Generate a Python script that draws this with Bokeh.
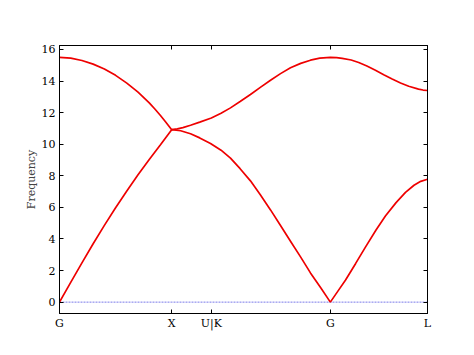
from bokeh.plotting import figure
from bokeh.models import Range1d, FixedTicker, LinearAxis
from bokeh.embed import file_html
from bokeh.resources import INLINE

# path positions of the high-symmetry points
tick_pos = [0.0, 1.0, 1.3536, 2.4142, 3.2802]
tick_labels = ["G", "X", "U|K", "G", "L"]

# upper branch
upper_k = [0.0, 0.1, 0.2, 0.3, 0.4, 0.5, 0.6, 0.7, 0.8, 0.85, 0.9, 0.95, 1.0,
           1.05, 1.1, 1.168, 1.25, 1.3536, 1.44, 1.524, 1.61, 1.702, 1.79, 1.881,
           1.97, 2.059, 2.15, 2.237, 2.32, 2.4142, 2.47, 2.52, 2.6, 2.667, 2.74, 2.816,
           2.89, 2.965, 3.04, 3.113, 3.2, 3.24, 3.2802]
upper_f = [15.5, 15.45, 15.3, 15.07, 14.76, 14.36, 13.87, 13.3, 12.62, 12.23, 11.82, 11.38, 10.92,
           10.97, 11.05, 11.2, 11.4, 11.66, 11.96, 12.3, 12.7, 13.15, 13.6, 14.05,
           14.47, 14.84, 15.12, 15.32, 15.45, 15.5, 15.48, 15.44, 15.33, 15.17, 14.95, 14.68,
           14.4, 14.13, 13.88, 13.67, 13.49, 13.43, 13.4]

# lower branch
lower_k = [0.0, 0.1, 0.2, 0.3, 0.4, 0.5, 0.6, 0.7, 0.8, 0.9, 1.0,
           1.08, 1.168, 1.25, 1.346, 1.44, 1.524, 1.61, 1.702, 1.79, 1.881,
           1.97, 2.059, 2.15, 2.237, 2.33, 2.4142, 2.48, 2.55, 2.64, 2.727, 2.82,
           2.905, 3.0, 3.084, 3.16, 3.22, 3.2802]
lower_f = [0.0, 1.25, 2.49, 3.7, 4.86, 5.98, 7.04, 8.06, 9.03, 9.97, 10.92,
           10.85, 10.66, 10.4, 10.05, 9.62, 9.12, 8.45, 7.68, 6.8, 5.84,
           4.85, 3.86, 2.85, 1.85, 0.89, 0.0, 0.68, 1.4, 2.45, 3.48, 4.55,
           5.45, 6.3, 6.95, 7.4, 7.65, 7.78]

# flat branch at zero
flat_k = [0.0, 1.0, 1.3536, 2.4142, 3.2802]
flat_f = [0.0, 0.0, 0.0, 0.0, 0.0]

FONT = "DejaVu Serif"

p = figure(width=474, height=355, output_backend="svg", toolbar_location=None,
           x_range=Range1d(0.0, 3.2802), y_range=Range1d(-0.72, 16.25),
           min_border_left=59, min_border_right=47, min_border_top=45,
           min_border_bottom=42, background_fill_color="white",
           border_fill_color="white")
p.grid.visible = False
p.outline_line_color = "black"
p.outline_line_width = 1

p.line(flat_k, flat_f, line_color="#3333dd", line_width=1, line_alpha=0.65, line_dash="2 1")
p.line(upper_k, upper_f, line_color="#ee0000", line_width=1.7)
p.line(lower_k, lower_f, line_color="#ee0000", line_width=1.7)

def style(ax, labels=True):
    ax.axis_line_color = "black"
    ax.major_tick_in = 4
    ax.major_tick_out = 0
    ax.minor_tick_line_color = None
    ax.major_tick_line_color = "black"
    ax.major_label_text_font = FONT
    ax.major_label_text_font_size = "11px"
    ax.major_label_text_color = "black"
    ax.major_label_standoff = 4
    if not labels:
        ax.major_label_text_color = None

xt = FixedTicker(ticks=tick_pos)
yt = FixedTicker(ticks=[0, 2, 4, 6, 8, 10, 12, 14, 16])

p.xaxis.ticker = xt
p.xaxis.major_label_overrides = {t: l for t, l in zip(tick_pos, tick_labels)}
p.yaxis.ticker = yt
style(p.xaxis[0])
style(p.yaxis[0])
p.xaxis.major_label_standoff = 3
p.yaxis.axis_label = "Frequency"
p.yaxis.axis_label_text_font = FONT
p.yaxis.axis_label_text_font_size = "11px"
p.yaxis.axis_label_text_font_style = "normal"
p.yaxis.axis_label_standoff = 1

top = LinearAxis(ticker=FixedTicker(ticks=tick_pos))
style(top, labels=False)
p.add_layout(top, "above")
right = LinearAxis(ticker=FixedTicker(ticks=[0, 2, 4, 6, 8, 10, 12, 14, 16]))
style(right, labels=False)
p.add_layout(right, "right")

open("out.html", "w").write(file_html(p, INLINE))
